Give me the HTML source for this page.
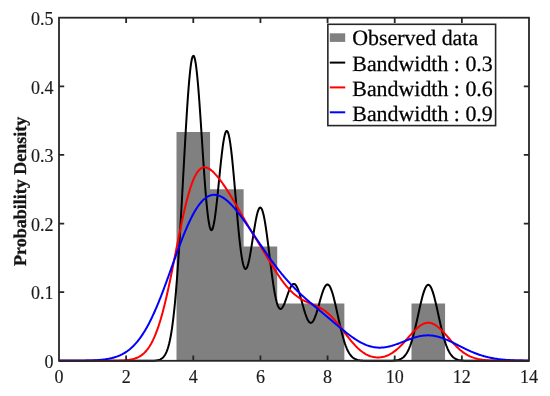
<!DOCTYPE html>
<html><head><meta charset="utf-8"><style>
html,body{margin:0;padding:0;background:#fff;}
body{width:550px;height:396px;overflow:hidden;}
svg{display:block;}
.t{font-family:"Liberation Serif",serif;font-size:18.0px;fill:#1a1a1a;stroke:#1a1a1a;stroke-width:0.15px;}
.lg{text-rendering:geometricPrecision;font-family:"Liberation Serif",serif;font-size:21.9px;fill:#000;stroke:#000;stroke-width:0.25px;}
.yl{text-rendering:geometricPrecision;font-family:"Liberation Serif",serif;font-size:18.0px;font-weight:bold;fill:#141414;stroke:#141414;stroke-width:0.3px;}
</style></head><body>
<svg width="550" height="396" viewBox="0 0 550 396">
<rect width="550" height="396" fill="#fff"/>
<path d="M176.50,360.80 V132.07 H210.07 V189.25 H243.64 V246.43 H277.21 V303.62 H344.36 V360.80 Z M411.50,360.80 V303.62 H445.07 V360.80 Z" fill="#808080"/>
<path d="M59.00,360.80 L59.67,360.80 L60.34,360.80 L61.01,360.80 L61.69,360.80 L62.36,360.80 L63.03,360.80 L63.70,360.80 L64.37,360.80 L65.04,360.80 L65.71,360.80 L66.39,360.80 L67.06,360.80 L67.73,360.80 L68.40,360.80 L69.07,360.80 L69.74,360.80 L70.41,360.80 L71.09,360.80 L71.76,360.80 L72.43,360.80 L73.10,360.80 L73.77,360.80 L74.44,360.80 L75.11,360.80 L75.79,360.80 L76.46,360.80 L77.13,360.80 L77.80,360.80 L78.47,360.80 L79.14,360.80 L79.81,360.80 L80.49,360.80 L81.16,360.80 L81.83,360.80 L82.50,360.80 L83.17,360.80 L83.84,360.80 L84.51,360.80 L85.19,360.80 L85.86,360.80 L86.53,360.80 L87.20,360.80 L87.87,360.80 L88.54,360.80 L89.21,360.80 L89.89,360.80 L90.56,360.80 L91.23,360.80 L91.90,360.80 L92.57,360.80 L93.24,360.80 L93.91,360.80 L94.59,360.80 L95.26,360.80 L95.93,360.80 L96.60,360.80 L97.27,360.80 L97.94,360.80 L98.61,360.80 L99.29,360.80 L99.96,360.80 L100.63,360.80 L101.30,360.80 L101.97,360.80 L102.64,360.80 L103.31,360.80 L103.99,360.80 L104.66,360.80 L105.33,360.80 L106.00,360.80 L106.67,360.80 L107.34,360.80 L108.01,360.80 L108.69,360.80 L109.36,360.80 L110.03,360.80 L110.70,360.80 L111.37,360.80 L112.04,360.80 L112.71,360.80 L113.39,360.80 L114.06,360.80 L114.73,360.80 L115.40,360.80 L116.07,360.80 L116.74,360.80 L117.41,360.80 L118.09,360.80 L118.76,360.80 L119.43,360.80 L120.10,360.80 L120.77,360.80 L121.44,360.80 L122.11,360.80 L122.79,360.80 L123.46,360.80 L124.13,360.80 L124.80,360.80 L125.47,360.80 L126.14,360.80 L126.81,360.80 L127.49,360.80 L128.16,360.80 L128.83,360.80 L129.50,360.80 L130.17,360.80 L130.84,360.80 L131.51,360.80 L132.19,360.80 L132.86,360.80 L133.53,360.80 L134.20,360.80 L134.87,360.80 L135.54,360.80 L136.21,360.80 L136.89,360.80 L137.56,360.80 L138.23,360.80 L138.90,360.80 L139.57,360.80 L140.24,360.80 L140.91,360.80 L141.59,360.80 L142.26,360.80 L142.93,360.80 L143.60,360.80 L144.27,360.80 L144.94,360.80 L145.61,360.80 L146.29,360.79 L146.96,360.79 L147.63,360.79 L148.30,360.79 L148.97,360.78 L149.64,360.77 L150.31,360.77 L150.99,360.76 L151.66,360.74 L152.33,360.72 L153.00,360.70 L153.67,360.67 L154.34,360.63 L155.01,360.58 L155.69,360.51 L156.36,360.43 L157.03,360.33 L157.70,360.21 L158.37,360.05 L159.04,359.86 L159.71,359.62 L160.39,359.33 L161.06,358.98 L161.73,358.56 L162.40,358.04 L163.07,357.42 L163.74,356.68 L164.41,355.80 L165.09,354.76 L165.76,353.54 L166.43,352.11 L167.10,350.44 L167.77,348.51 L168.44,346.28 L169.11,343.73 L169.79,340.81 L170.46,337.49 L171.13,333.75 L171.80,329.55 L172.47,324.85 L173.14,319.63 L173.81,313.87 L174.49,307.53 L175.16,300.60 L175.83,293.08 L176.50,284.95 L177.17,276.23 L177.84,266.92 L178.51,257.04 L179.19,246.64 L179.86,235.75 L180.53,224.42 L181.20,212.74 L181.87,200.76 L182.54,188.58 L183.21,176.29 L183.89,164.00 L184.56,151.83 L185.23,139.88 L185.90,128.29 L186.57,117.16 L187.24,106.64 L187.91,96.82 L188.59,87.84 L189.26,79.80 L189.93,72.79 L190.60,66.90 L191.27,62.21 L191.94,58.76 L192.61,56.60 L193.29,55.75 L193.96,56.20 L194.63,57.96 L195.30,60.97 L195.97,65.18 L196.64,70.53 L197.31,76.93 L197.99,84.26 L198.66,92.43 L199.33,101.29 L200.00,110.72 L200.67,120.58 L201.34,130.71 L202.01,140.97 L202.69,151.22 L203.36,161.32 L204.03,171.11 L204.70,180.48 L205.37,189.31 L206.04,197.47 L206.71,204.88 L207.39,211.44 L208.06,217.09 L208.73,221.77 L209.40,225.44 L210.07,228.07 L210.74,229.65 L211.41,230.19 L212.09,229.71 L212.76,228.25 L213.43,225.85 L214.10,222.57 L214.77,218.50 L215.44,213.72 L216.11,208.33 L216.79,202.43 L217.46,196.13 L218.13,189.56 L218.80,182.83 L219.47,176.06 L220.14,169.39 L220.81,162.93 L221.49,156.79 L222.16,151.10 L222.83,145.95 L223.50,141.44 L224.17,137.65 L224.84,134.65 L225.51,132.50 L226.19,131.24 L226.86,130.91 L227.53,131.51 L228.20,133.03 L228.87,135.47 L229.54,138.79 L230.21,142.94 L230.89,147.87 L231.56,153.49 L232.23,159.72 L232.90,166.49 L233.57,173.68 L234.24,181.20 L234.91,188.94 L235.59,196.79 L236.26,204.65 L236.93,212.41 L237.60,219.97 L238.27,227.24 L238.94,234.12 L239.61,240.54 L240.29,246.43 L240.96,251.71 L241.63,256.35 L242.30,260.29 L242.97,263.51 L243.64,265.99 L244.31,267.72 L244.99,268.71 L245.66,268.97 L246.33,268.52 L247.00,267.40 L247.67,265.65 L248.34,263.33 L249.01,260.50 L249.69,257.21 L250.36,253.55 L251.03,249.60 L251.70,245.43 L252.37,241.13 L253.04,236.79 L253.71,232.48 L254.39,228.29 L255.06,224.31 L255.73,220.60 L256.40,217.25 L257.07,214.31 L257.74,211.84 L258.41,209.89 L259.09,208.51 L259.76,207.72 L260.43,207.54 L261.10,207.98 L261.77,209.05 L262.44,210.72 L263.11,212.99 L263.79,215.81 L264.46,219.16 L265.13,222.99 L265.80,227.24 L266.47,231.85 L267.14,236.77 L267.81,241.92 L268.49,247.25 L269.16,252.67 L269.83,258.12 L270.50,263.54 L271.17,268.86 L271.84,274.01 L272.51,278.95 L273.19,283.62 L273.86,287.98 L274.53,291.98 L275.20,295.60 L275.87,298.81 L276.54,301.58 L277.21,303.91 L277.89,305.80 L278.56,307.23 L279.23,308.23 L279.90,308.79 L280.57,308.95 L281.24,308.73 L281.91,308.16 L282.59,307.26 L283.26,306.09 L283.93,304.67 L284.60,303.06 L285.27,301.30 L285.94,299.42 L286.61,297.49 L287.29,295.54 L287.96,293.62 L288.63,291.78 L289.30,290.05 L289.97,288.47 L290.64,287.09 L291.31,285.92 L291.99,284.99 L292.66,284.33 L293.33,283.96 L294.00,283.88 L294.67,284.09 L295.34,284.60 L296.01,285.41 L296.69,286.49 L297.36,287.84 L298.03,289.43 L298.70,291.24 L299.37,293.24 L300.04,295.40 L300.71,297.69 L301.39,300.06 L302.06,302.48 L302.73,304.91 L303.40,307.32 L304.07,309.67 L304.74,311.91 L305.41,314.02 L306.09,315.97 L306.76,317.72 L307.43,319.24 L308.10,320.53 L308.77,321.54 L309.44,322.28 L310.11,322.73 L310.79,322.88 L311.46,322.73 L312.13,322.28 L312.80,321.54 L313.47,320.53 L314.14,319.25 L314.81,317.72 L315.49,315.97 L316.16,314.03 L316.83,311.92 L317.50,309.68 L318.17,307.34 L318.84,304.94 L319.51,302.51 L320.19,300.10 L320.86,297.74 L321.53,295.47 L322.20,293.33 L322.87,291.35 L323.54,289.57 L324.21,288.02 L324.89,286.72 L325.56,285.70 L326.23,284.98 L326.90,284.56 L327.57,284.46 L328.24,284.69 L328.91,285.24 L329.59,286.11 L330.26,287.30 L330.93,288.78 L331.60,290.53 L332.27,292.55 L332.94,294.80 L333.61,297.25 L334.29,299.88 L334.96,302.67 L335.63,305.57 L336.30,308.55 L336.97,311.60 L337.64,314.67 L338.31,317.74 L338.99,320.79 L339.66,323.78 L340.33,326.71 L341.00,329.54 L341.67,332.26 L342.34,334.86 L343.01,337.33 L343.69,339.66 L344.36,341.84 L345.03,343.87 L345.70,345.75 L346.37,347.48 L347.04,349.07 L347.71,350.51 L348.39,351.81 L349.06,352.99 L349.73,354.04 L350.40,354.97 L351.07,355.80 L351.74,356.53 L352.41,357.17 L353.09,357.73 L353.76,358.21 L354.43,358.63 L355.10,358.99 L355.77,359.29 L356.44,359.55 L357.11,359.77 L357.79,359.96 L358.46,360.11 L359.13,360.24 L359.80,360.35 L360.47,360.43 L361.14,360.51 L361.81,360.57 L362.49,360.61 L363.16,360.65 L363.83,360.68 L364.50,360.71 L365.17,360.73 L365.84,360.74 L366.51,360.76 L367.19,360.77 L367.86,360.77 L368.53,360.78 L369.20,360.79 L369.87,360.79 L370.54,360.79 L371.21,360.79 L371.89,360.80 L372.56,360.80 L373.23,360.80 L373.90,360.80 L374.57,360.80 L375.24,360.80 L375.91,360.80 L376.59,360.80 L377.26,360.80 L377.93,360.80 L378.60,360.80 L379.27,360.80 L379.94,360.80 L380.61,360.80 L381.29,360.80 L381.96,360.80 L382.63,360.80 L383.30,360.80 L383.97,360.80 L384.64,360.79 L385.31,360.79 L385.99,360.79 L386.66,360.79 L387.33,360.78 L388.00,360.77 L388.67,360.77 L389.34,360.76 L390.01,360.74 L390.69,360.73 L391.36,360.71 L392.03,360.68 L392.70,360.65 L393.37,360.61 L394.04,360.57 L394.71,360.51 L395.39,360.43 L396.06,360.35 L396.73,360.24 L397.40,360.11 L398.07,359.96 L398.74,359.77 L399.41,359.55 L400.09,359.29 L400.76,358.99 L401.43,358.63 L402.10,358.21 L402.77,357.73 L403.44,357.17 L404.11,356.53 L404.79,355.80 L405.46,354.97 L406.13,354.04 L406.80,352.99 L407.47,351.81 L408.14,350.51 L408.81,349.07 L409.49,347.48 L410.16,345.75 L410.83,343.87 L411.50,341.84 L412.17,339.66 L412.84,337.33 L413.51,334.86 L414.19,332.26 L414.86,329.54 L415.53,326.71 L416.20,323.79 L416.87,320.79 L417.54,317.75 L418.21,314.68 L418.89,311.61 L419.56,308.57 L420.23,305.58 L420.90,302.69 L421.57,299.91 L422.24,297.28 L422.91,294.84 L423.59,292.60 L424.26,290.60 L424.93,288.87 L425.60,287.41 L426.27,286.26 L426.94,285.43 L427.61,284.93 L428.29,284.76 L428.96,284.93 L429.63,285.43 L430.30,286.26 L430.97,287.41 L431.64,288.87 L432.31,290.60 L432.99,292.60 L433.66,294.84 L434.33,297.28 L435.00,299.91 L435.67,302.69 L436.34,305.58 L437.01,308.57 L437.69,311.61 L438.36,314.68 L439.03,317.75 L439.70,320.79 L440.37,323.79 L441.04,326.71 L441.71,329.54 L442.39,332.26 L443.06,334.86 L443.73,337.33 L444.40,339.66 L445.07,341.84 L445.74,343.87 L446.41,345.75 L447.09,347.48 L447.76,349.07 L448.43,350.51 L449.10,351.81 L449.77,352.99 L450.44,354.04 L451.11,354.97 L451.79,355.80 L452.46,356.53 L453.13,357.17 L453.80,357.73 L454.47,358.21 L455.14,358.63 L455.81,358.99 L456.49,359.29 L457.16,359.55 L457.83,359.77 L458.50,359.96 L459.17,360.11 L459.84,360.24 L460.51,360.35 L461.19,360.43 L461.86,360.51 L462.53,360.57 L463.20,360.61 L463.87,360.65 L464.54,360.68 L465.21,360.71 L465.89,360.73 L466.56,360.74 L467.23,360.76 L467.90,360.77 L468.57,360.77 L469.24,360.78 L469.91,360.79 L470.59,360.79 L471.26,360.79 L471.93,360.79 L472.60,360.80 L473.27,360.80 L473.94,360.80 L474.61,360.80 L475.29,360.80 L475.96,360.80 L476.63,360.80 L477.30,360.80 L477.97,360.80 L478.64,360.80 L479.31,360.80 L479.99,360.80 L480.66,360.80 L481.33,360.80 L482.00,360.80 L482.67,360.80 L483.34,360.80 L484.01,360.80 L484.69,360.80 L485.36,360.80 L486.03,360.80 L486.70,360.80 L487.37,360.80 L488.04,360.80 L488.71,360.80 L489.39,360.80 L490.06,360.80 L490.73,360.80 L491.40,360.80 L492.07,360.80 L492.74,360.80 L493.41,360.80 L494.09,360.80 L494.76,360.80 L495.43,360.80 L496.10,360.80 L496.77,360.80 L497.44,360.80 L498.11,360.80 L498.79,360.80 L499.46,360.80 L500.13,360.80 L500.80,360.80 L501.47,360.80 L502.14,360.80 L502.81,360.80 L503.49,360.80 L504.16,360.80 L504.83,360.80 L505.50,360.80 L506.17,360.80 L506.84,360.80 L507.51,360.80 L508.19,360.80 L508.86,360.80 L509.53,360.80 L510.20,360.80 L510.87,360.80 L511.54,360.80 L512.21,360.80 L512.89,360.80 L513.56,360.80 L514.23,360.80 L514.90,360.80 L515.57,360.80 L516.24,360.80 L516.91,360.80 L517.59,360.80 L518.26,360.80 L518.93,360.80 L519.60,360.80 L520.27,360.80 L520.94,360.80 L521.61,360.80 L522.29,360.80 L522.96,360.80 L523.63,360.80 L524.30,360.80 L524.97,360.80 L525.64,360.80 L526.31,360.80 L526.99,360.80 L527.66,360.80 L528.33,360.80 L529.00,360.80" fill="none" stroke="#000" stroke-width="2.0" stroke-linejoin="round"/>
<path d="M59.00,360.80 L59.67,360.80 L60.34,360.80 L61.01,360.80 L61.69,360.80 L62.36,360.80 L63.03,360.80 L63.70,360.80 L64.37,360.80 L65.04,360.80 L65.71,360.80 L66.39,360.80 L67.06,360.80 L67.73,360.80 L68.40,360.80 L69.07,360.80 L69.74,360.80 L70.41,360.80 L71.09,360.80 L71.76,360.80 L72.43,360.80 L73.10,360.80 L73.77,360.80 L74.44,360.80 L75.11,360.80 L75.79,360.80 L76.46,360.80 L77.13,360.80 L77.80,360.80 L78.47,360.80 L79.14,360.80 L79.81,360.80 L80.49,360.80 L81.16,360.80 L81.83,360.80 L82.50,360.80 L83.17,360.80 L83.84,360.80 L84.51,360.80 L85.19,360.80 L85.86,360.80 L86.53,360.80 L87.20,360.80 L87.87,360.80 L88.54,360.80 L89.21,360.80 L89.89,360.80 L90.56,360.80 L91.23,360.80 L91.90,360.80 L92.57,360.80 L93.24,360.80 L93.91,360.80 L94.59,360.80 L95.26,360.80 L95.93,360.80 L96.60,360.80 L97.27,360.80 L97.94,360.80 L98.61,360.80 L99.29,360.80 L99.96,360.80 L100.63,360.80 L101.30,360.80 L101.97,360.79 L102.64,360.79 L103.31,360.79 L103.99,360.79 L104.66,360.79 L105.33,360.79 L106.00,360.79 L106.67,360.79 L107.34,360.78 L108.01,360.78 L108.69,360.78 L109.36,360.77 L110.03,360.77 L110.70,360.77 L111.37,360.76 L112.04,360.76 L112.71,360.75 L113.39,360.74 L114.06,360.73 L114.73,360.72 L115.40,360.71 L116.07,360.70 L116.74,360.69 L117.41,360.67 L118.09,360.66 L118.76,360.64 L119.43,360.62 L120.10,360.59 L120.77,360.57 L121.44,360.54 L122.11,360.50 L122.79,360.47 L123.46,360.43 L124.13,360.38 L124.80,360.33 L125.47,360.27 L126.14,360.21 L126.81,360.14 L127.49,360.07 L128.16,359.98 L128.83,359.89 L129.50,359.79 L130.17,359.68 L130.84,359.55 L131.51,359.42 L132.19,359.27 L132.86,359.11 L133.53,358.93 L134.20,358.74 L134.87,358.53 L135.54,358.30 L136.21,358.05 L136.89,357.78 L137.56,357.48 L138.23,357.16 L138.90,356.82 L139.57,356.45 L140.24,356.04 L140.91,355.61 L141.59,355.14 L142.26,354.64 L142.93,354.10 L143.60,353.52 L144.27,352.90 L144.94,352.23 L145.61,351.52 L146.29,350.77 L146.96,349.96 L147.63,349.10 L148.30,348.18 L148.97,347.21 L149.64,346.18 L150.31,345.09 L150.99,343.94 L151.66,342.72 L152.33,341.43 L153.00,340.08 L153.67,338.66 L154.34,337.16 L155.01,335.59 L155.69,333.94 L156.36,332.22 L157.03,330.42 L157.70,328.54 L158.37,326.59 L159.04,324.55 L159.71,322.44 L160.39,320.24 L161.06,317.96 L161.73,315.61 L162.40,313.18 L163.07,310.67 L163.74,308.08 L164.41,305.42 L165.09,302.68 L165.76,299.88 L166.43,297.01 L167.10,294.07 L167.77,291.07 L168.44,288.01 L169.11,284.90 L169.79,281.73 L170.46,278.52 L171.13,275.26 L171.80,271.97 L172.47,268.64 L173.14,265.29 L173.81,261.92 L174.49,258.52 L175.16,255.12 L175.83,251.71 L176.50,248.30 L177.17,244.90 L177.84,241.52 L178.51,238.15 L179.19,234.81 L179.86,231.50 L180.53,228.22 L181.20,224.99 L181.87,221.81 L182.54,218.69 L183.21,215.63 L183.89,212.63 L184.56,209.70 L185.23,206.86 L185.90,204.09 L186.57,201.40 L187.24,198.81 L187.91,196.31 L188.59,193.91 L189.26,191.60 L189.93,189.40 L190.60,187.30 L191.27,185.31 L191.94,183.42 L192.61,181.65 L193.29,179.98 L193.96,178.42 L194.63,176.97 L195.30,175.63 L195.97,174.40 L196.64,173.28 L197.31,172.26 L197.99,171.34 L198.66,170.53 L199.33,169.81 L200.00,169.19 L200.67,168.67 L201.34,168.24 L202.01,167.89 L202.69,167.63 L203.36,167.45 L204.03,167.35 L204.70,167.33 L205.37,167.37 L206.04,167.48 L206.71,167.66 L207.39,167.90 L208.06,168.19 L208.73,168.54 L209.40,168.93 L210.07,169.38 L210.74,169.87 L211.41,170.40 L212.09,170.97 L212.76,171.57 L213.43,172.21 L214.10,172.88 L214.77,173.58 L215.44,174.31 L216.11,175.06 L216.79,175.84 L217.46,176.64 L218.13,177.46 L218.80,178.30 L219.47,179.16 L220.14,180.04 L220.81,180.94 L221.49,181.85 L222.16,182.78 L222.83,183.73 L223.50,184.69 L224.17,185.66 L224.84,186.65 L225.51,187.66 L226.19,188.67 L226.86,189.70 L227.53,190.75 L228.20,191.80 L228.87,192.87 L229.54,193.95 L230.21,195.04 L230.89,196.14 L231.56,197.25 L232.23,198.37 L232.90,199.50 L233.57,200.63 L234.24,201.77 L234.91,202.92 L235.59,204.08 L236.26,205.24 L236.93,206.40 L237.60,207.57 L238.27,208.74 L238.94,209.91 L239.61,211.08 L240.29,212.26 L240.96,213.43 L241.63,214.60 L242.30,215.77 L242.97,216.94 L243.64,218.10 L244.31,219.26 L244.99,220.42 L245.66,221.57 L246.33,222.72 L247.00,223.87 L247.67,225.01 L248.34,226.15 L249.01,227.28 L249.69,228.41 L250.36,229.53 L251.03,230.65 L251.70,231.76 L252.37,232.88 L253.04,233.99 L253.71,235.09 L254.39,236.20 L255.06,237.30 L255.73,238.40 L256.40,239.50 L257.07,240.60 L257.74,241.70 L258.41,242.80 L259.09,243.90 L259.76,245.00 L260.43,246.10 L261.10,247.20 L261.77,248.31 L262.44,249.41 L263.11,250.52 L263.79,251.63 L264.46,252.74 L265.13,253.85 L265.80,254.97 L266.47,256.08 L267.14,257.19 L267.81,258.31 L268.49,259.42 L269.16,260.53 L269.83,261.64 L270.50,262.75 L271.17,263.85 L271.84,264.95 L272.51,266.04 L273.19,267.13 L273.86,268.21 L274.53,269.29 L275.20,270.35 L275.87,271.41 L276.54,272.45 L277.21,273.49 L277.89,274.51 L278.56,275.52 L279.23,276.52 L279.90,277.50 L280.57,278.46 L281.24,279.41 L281.91,280.35 L282.59,281.26 L283.26,282.16 L283.93,283.04 L284.60,283.90 L285.27,284.74 L285.94,285.57 L286.61,286.37 L287.29,287.16 L287.96,287.92 L288.63,288.66 L289.30,289.39 L289.97,290.09 L290.64,290.77 L291.31,291.44 L291.99,292.08 L292.66,292.71 L293.33,293.31 L294.00,293.89 L294.67,294.46 L295.34,295.01 L296.01,295.54 L296.69,296.05 L297.36,296.54 L298.03,297.02 L298.70,297.48 L299.37,297.93 L300.04,298.36 L300.71,298.77 L301.39,299.17 L302.06,299.56 L302.73,299.94 L303.40,300.30 L304.07,300.65 L304.74,300.99 L305.41,301.32 L306.09,301.64 L306.76,301.95 L307.43,302.26 L308.10,302.56 L308.77,302.85 L309.44,303.14 L310.11,303.42 L310.79,303.70 L311.46,303.98 L312.13,304.26 L312.80,304.54 L313.47,304.83 L314.14,305.11 L314.81,305.40 L315.49,305.69 L316.16,305.99 L316.83,306.30 L317.50,306.62 L318.17,306.94 L318.84,307.28 L319.51,307.62 L320.19,307.98 L320.86,308.36 L321.53,308.74 L322.20,309.15 L322.87,309.56 L323.54,310.00 L324.21,310.45 L324.89,310.92 L325.56,311.41 L326.23,311.92 L326.90,312.45 L327.57,313.00 L328.24,313.57 L328.91,314.16 L329.59,314.77 L330.26,315.40 L330.93,316.05 L331.60,316.72 L332.27,317.41 L332.94,318.12 L333.61,318.85 L334.29,319.60 L334.96,320.36 L335.63,321.14 L336.30,321.93 L336.97,322.74 L337.64,323.56 L338.31,324.39 L338.99,325.24 L339.66,326.09 L340.33,326.96 L341.00,327.83 L341.67,328.70 L342.34,329.58 L343.01,330.47 L343.69,331.36 L344.36,332.24 L345.03,333.13 L345.70,334.01 L346.37,334.89 L347.04,335.77 L347.71,336.63 L348.39,337.49 L349.06,338.35 L349.73,339.19 L350.40,340.02 L351.07,340.83 L351.74,341.64 L352.41,342.43 L353.09,343.20 L353.76,343.96 L354.43,344.70 L355.10,345.42 L355.77,346.13 L356.44,346.81 L357.11,347.48 L357.79,348.12 L358.46,348.74 L359.13,349.35 L359.80,349.93 L360.47,350.49 L361.14,351.03 L361.81,351.54 L362.49,352.03 L363.16,352.51 L363.83,352.95 L364.50,353.38 L365.17,353.79 L365.84,354.17 L366.51,354.53 L367.19,354.87 L367.86,355.19 L368.53,355.48 L369.20,355.76 L369.87,356.01 L370.54,356.24 L371.21,356.45 L371.89,356.64 L372.56,356.81 L373.23,356.96 L373.90,357.09 L374.57,357.20 L375.24,357.29 L375.91,357.36 L376.59,357.41 L377.26,357.44 L377.93,357.45 L378.60,357.44 L379.27,357.42 L379.94,357.37 L380.61,357.30 L381.29,357.21 L381.96,357.10 L382.63,356.98 L383.30,356.83 L383.97,356.66 L384.64,356.48 L385.31,356.27 L385.99,356.04 L386.66,355.79 L387.33,355.52 L388.00,355.23 L388.67,354.92 L389.34,354.59 L390.01,354.23 L390.69,353.86 L391.36,353.46 L392.03,353.05 L392.70,352.61 L393.37,352.15 L394.04,351.67 L394.71,351.17 L395.39,350.65 L396.06,350.11 L396.73,349.55 L397.40,348.97 L398.07,348.37 L398.74,347.76 L399.41,347.12 L400.09,346.47 L400.76,345.81 L401.43,345.12 L402.10,344.43 L402.77,343.72 L403.44,343.00 L404.11,342.27 L404.79,341.52 L405.46,340.77 L406.13,340.02 L406.80,339.26 L407.47,338.49 L408.14,337.73 L408.81,336.96 L409.49,336.19 L410.16,335.43 L410.83,334.68 L411.50,333.93 L412.17,333.19 L412.84,332.46 L413.51,331.74 L414.19,331.04 L414.86,330.35 L415.53,329.69 L416.20,329.04 L416.87,328.42 L417.54,327.82 L418.21,327.24 L418.89,326.70 L419.56,326.18 L420.23,325.70 L420.90,325.25 L421.57,324.83 L422.24,324.45 L422.91,324.11 L423.59,323.80 L424.26,323.53 L424.93,323.30 L425.60,323.11 L426.27,322.97 L426.94,322.86 L427.61,322.80 L428.29,322.78 L428.96,322.80 L429.63,322.86 L430.30,322.97 L430.97,323.11 L431.64,323.30 L432.31,323.53 L432.99,323.80 L433.66,324.11 L434.33,324.45 L435.00,324.83 L435.67,325.25 L436.34,325.70 L437.01,326.19 L437.69,326.70 L438.36,327.25 L439.03,327.82 L439.70,328.42 L440.37,329.04 L441.04,329.69 L441.71,330.35 L442.39,331.04 L443.06,331.74 L443.73,332.46 L444.40,333.19 L445.07,333.93 L445.74,334.68 L446.41,335.44 L447.09,336.20 L447.76,336.97 L448.43,337.74 L449.10,338.51 L449.77,339.27 L450.44,340.04 L451.11,340.80 L451.79,341.55 L452.46,342.29 L453.13,343.03 L453.80,343.75 L454.47,344.47 L455.14,345.17 L455.81,345.86 L456.49,346.53 L457.16,347.19 L457.83,347.83 L458.50,348.46 L459.17,349.06 L459.84,349.66 L460.51,350.23 L461.19,350.78 L461.86,351.32 L462.53,351.84 L463.20,352.34 L463.87,352.81 L464.54,353.28 L465.21,353.72 L465.89,354.14 L466.56,354.55 L467.23,354.93 L467.90,355.30 L468.57,355.65 L469.24,355.99 L469.91,356.31 L470.59,356.61 L471.26,356.89 L471.93,357.16 L472.60,357.42 L473.27,357.66 L473.94,357.89 L474.61,358.10 L475.29,358.30 L475.96,358.49 L476.63,358.67 L477.30,358.83 L477.97,358.99 L478.64,359.13 L479.31,359.26 L479.99,359.39 L480.66,359.51 L481.33,359.61 L482.00,359.71 L482.67,359.81 L483.34,359.89 L484.01,359.97 L484.69,360.05 L485.36,360.11 L486.03,360.18 L486.70,360.23 L487.37,360.29 L488.04,360.33 L488.71,360.38 L489.39,360.42 L490.06,360.45 L490.73,360.49 L491.40,360.52 L492.07,360.55 L492.74,360.57 L493.41,360.60 L494.09,360.62 L494.76,360.64 L495.43,360.65 L496.10,360.67 L496.77,360.68 L497.44,360.70 L498.11,360.71 L498.79,360.72 L499.46,360.73 L500.13,360.73 L500.80,360.74 L501.47,360.75 L502.14,360.75 L502.81,360.76 L503.49,360.76 L504.16,360.77 L504.83,360.77 L505.50,360.78 L506.17,360.78 L506.84,360.78 L507.51,360.78 L508.19,360.79 L508.86,360.79 L509.53,360.79 L510.20,360.79 L510.87,360.79 L511.54,360.79 L512.21,360.79 L512.89,360.79 L513.56,360.80 L514.23,360.80 L514.90,360.80 L515.57,360.80 L516.24,360.80 L516.91,360.80 L517.59,360.80 L518.26,360.80 L518.93,360.80 L519.60,360.80 L520.27,360.80 L520.94,360.80 L521.61,360.80 L522.29,360.80 L522.96,360.80 L523.63,360.80 L524.30,360.80 L524.97,360.80 L525.64,360.80 L526.31,360.80 L526.99,360.80 L527.66,360.80 L528.33,360.80 L529.00,360.80" fill="none" stroke="#f00" stroke-width="2.0" stroke-linejoin="round"/>
<path d="M59.00,360.79 L59.67,360.79 L60.34,360.79 L61.01,360.79 L61.69,360.79 L62.36,360.79 L63.03,360.79 L63.70,360.79 L64.37,360.79 L65.04,360.79 L65.71,360.79 L66.39,360.78 L67.06,360.78 L67.73,360.78 L68.40,360.78 L69.07,360.78 L69.74,360.78 L70.41,360.77 L71.09,360.77 L71.76,360.77 L72.43,360.77 L73.10,360.76 L73.77,360.76 L74.44,360.76 L75.11,360.75 L75.79,360.75 L76.46,360.74 L77.13,360.74 L77.80,360.73 L78.47,360.73 L79.14,360.72 L79.81,360.71 L80.49,360.70 L81.16,360.70 L81.83,360.69 L82.50,360.68 L83.17,360.67 L83.84,360.66 L84.51,360.64 L85.19,360.63 L85.86,360.62 L86.53,360.60 L87.20,360.58 L87.87,360.57 L88.54,360.55 L89.21,360.53 L89.89,360.51 L90.56,360.48 L91.23,360.46 L91.90,360.43 L92.57,360.40 L93.24,360.37 L93.91,360.34 L94.59,360.31 L95.26,360.27 L95.93,360.23 L96.60,360.19 L97.27,360.14 L97.94,360.09 L98.61,360.04 L99.29,359.99 L99.96,359.93 L100.63,359.87 L101.30,359.80 L101.97,359.73 L102.64,359.66 L103.31,359.58 L103.99,359.49 L104.66,359.41 L105.33,359.31 L106.00,359.21 L106.67,359.11 L107.34,358.99 L108.01,358.88 L108.69,358.75 L109.36,358.62 L110.03,358.48 L110.70,358.33 L111.37,358.18 L112.04,358.02 L112.71,357.84 L113.39,357.66 L114.06,357.47 L114.73,357.27 L115.40,357.06 L116.07,356.84 L116.74,356.60 L117.41,356.36 L118.09,356.10 L118.76,355.83 L119.43,355.55 L120.10,355.26 L120.77,354.95 L121.44,354.62 L122.11,354.29 L122.79,353.93 L123.46,353.56 L124.13,353.18 L124.80,352.78 L125.47,352.36 L126.14,351.92 L126.81,351.46 L127.49,350.99 L128.16,350.50 L128.83,349.99 L129.50,349.45 L130.17,348.90 L130.84,348.32 L131.51,347.73 L132.19,347.11 L132.86,346.47 L133.53,345.81 L134.20,345.12 L134.87,344.41 L135.54,343.67 L136.21,342.91 L136.89,342.13 L137.56,341.32 L138.23,340.48 L138.90,339.62 L139.57,338.73 L140.24,337.82 L140.91,336.88 L141.59,335.91 L142.26,334.91 L142.93,333.89 L143.60,332.83 L144.27,331.76 L144.94,330.65 L145.61,329.51 L146.29,328.35 L146.96,327.16 L147.63,325.94 L148.30,324.69 L148.97,323.42 L149.64,322.11 L150.31,320.78 L150.99,319.43 L151.66,318.04 L152.33,316.63 L153.00,315.19 L153.67,313.73 L154.34,312.24 L155.01,310.73 L155.69,309.19 L156.36,307.63 L157.03,306.04 L157.70,304.43 L158.37,302.80 L159.04,301.15 L159.71,299.47 L160.39,297.78 L161.06,296.07 L161.73,294.34 L162.40,292.59 L163.07,290.83 L163.74,289.05 L164.41,287.26 L165.09,285.45 L165.76,283.63 L166.43,281.80 L167.10,279.96 L167.77,278.12 L168.44,276.26 L169.11,274.40 L169.79,272.53 L170.46,270.66 L171.13,268.79 L171.80,266.91 L172.47,265.04 L173.14,263.16 L173.81,261.29 L174.49,259.43 L175.16,257.57 L175.83,255.71 L176.50,253.86 L177.17,252.03 L177.84,250.20 L178.51,248.39 L179.19,246.58 L179.86,244.80 L180.53,243.03 L181.20,241.27 L181.87,239.54 L182.54,237.82 L183.21,236.13 L183.89,234.46 L184.56,232.81 L185.23,231.19 L185.90,229.59 L186.57,228.02 L187.24,226.48 L187.91,224.96 L188.59,223.48 L189.26,222.02 L189.93,220.60 L190.60,219.21 L191.27,217.86 L191.94,216.54 L192.61,215.25 L193.29,214.00 L193.96,212.79 L194.63,211.61 L195.30,210.47 L195.97,209.37 L196.64,208.31 L197.31,207.29 L197.99,206.30 L198.66,205.36 L199.33,204.46 L200.00,203.59 L200.67,202.77 L201.34,201.99 L202.01,201.25 L202.69,200.55 L203.36,199.89 L204.03,199.27 L204.70,198.70 L205.37,198.16 L206.04,197.67 L206.71,197.22 L207.39,196.80 L208.06,196.43 L208.73,196.10 L209.40,195.80 L210.07,195.55 L210.74,195.34 L211.41,195.16 L212.09,195.02 L212.76,194.92 L213.43,194.86 L214.10,194.83 L214.77,194.84 L215.44,194.89 L216.11,194.97 L216.79,195.08 L217.46,195.23 L218.13,195.41 L218.80,195.62 L219.47,195.87 L220.14,196.15 L220.81,196.45 L221.49,196.79 L222.16,197.16 L222.83,197.55 L223.50,197.97 L224.17,198.42 L224.84,198.90 L225.51,199.40 L226.19,199.93 L226.86,200.48 L227.53,201.05 L228.20,201.65 L228.87,202.27 L229.54,202.90 L230.21,203.56 L230.89,204.24 L231.56,204.94 L232.23,205.66 L232.90,206.40 L233.57,207.15 L234.24,207.92 L234.91,208.70 L235.59,209.50 L236.26,210.31 L236.93,211.14 L237.60,211.98 L238.27,212.84 L238.94,213.70 L239.61,214.58 L240.29,215.47 L240.96,216.36 L241.63,217.27 L242.30,218.19 L242.97,219.11 L243.64,220.05 L244.31,220.99 L244.99,221.94 L245.66,222.89 L246.33,223.85 L247.00,224.82 L247.67,225.79 L248.34,226.77 L249.01,227.75 L249.69,228.73 L250.36,229.72 L251.03,230.71 L251.70,231.70 L252.37,232.70 L253.04,233.70 L253.71,234.70 L254.39,235.70 L255.06,236.70 L255.73,237.70 L256.40,238.70 L257.07,239.70 L257.74,240.70 L258.41,241.70 L259.09,242.69 L259.76,243.69 L260.43,244.68 L261.10,245.68 L261.77,246.67 L262.44,247.65 L263.11,248.64 L263.79,249.62 L264.46,250.59 L265.13,251.57 L265.80,252.54 L266.47,253.50 L267.14,254.46 L267.81,255.42 L268.49,256.37 L269.16,257.32 L269.83,258.26 L270.50,259.19 L271.17,260.12 L271.84,261.05 L272.51,261.96 L273.19,262.88 L273.86,263.78 L274.53,264.68 L275.20,265.57 L275.87,266.46 L276.54,267.34 L277.21,268.21 L277.89,269.07 L278.56,269.93 L279.23,270.78 L279.90,271.63 L280.57,272.46 L281.24,273.29 L281.91,274.11 L282.59,274.92 L283.26,275.73 L283.93,276.53 L284.60,277.32 L285.27,278.10 L285.94,278.88 L286.61,279.65 L287.29,280.41 L287.96,281.16 L288.63,281.90 L289.30,282.64 L289.97,283.37 L290.64,284.09 L291.31,284.81 L291.99,285.52 L292.66,286.22 L293.33,286.92 L294.00,287.60 L294.67,288.28 L295.34,288.96 L296.01,289.63 L296.69,290.29 L297.36,290.94 L298.03,291.59 L298.70,292.24 L299.37,292.88 L300.04,293.51 L300.71,294.14 L301.39,294.76 L302.06,295.37 L302.73,295.99 L303.40,296.60 L304.07,297.20 L304.74,297.80 L305.41,298.39 L306.09,298.99 L306.76,299.57 L307.43,300.16 L308.10,300.74 L308.77,301.32 L309.44,301.90 L310.11,302.47 L310.79,303.04 L311.46,303.61 L312.13,304.18 L312.80,304.75 L313.47,305.31 L314.14,305.87 L314.81,306.44 L315.49,307.00 L316.16,307.56 L316.83,308.12 L317.50,308.68 L318.17,309.24 L318.84,309.80 L319.51,310.36 L320.19,310.91 L320.86,311.47 L321.53,312.03 L322.20,312.59 L322.87,313.15 L323.54,313.71 L324.21,314.28 L324.89,314.84 L325.56,315.40 L326.23,315.96 L326.90,316.53 L327.57,317.09 L328.24,317.66 L328.91,318.22 L329.59,318.79 L330.26,319.35 L330.93,319.92 L331.60,320.49 L332.27,321.05 L332.94,321.62 L333.61,322.19 L334.29,322.76 L334.96,323.32 L335.63,323.89 L336.30,324.45 L336.97,325.02 L337.64,325.58 L338.31,326.14 L338.99,326.71 L339.66,327.26 L340.33,327.82 L341.00,328.38 L341.67,328.93 L342.34,329.48 L343.01,330.03 L343.69,330.57 L344.36,331.11 L345.03,331.65 L345.70,332.18 L346.37,332.71 L347.04,333.23 L347.71,333.75 L348.39,334.27 L349.06,334.77 L349.73,335.28 L350.40,335.77 L351.07,336.26 L351.74,336.75 L352.41,337.22 L353.09,337.69 L353.76,338.15 L354.43,338.61 L355.10,339.05 L355.77,339.49 L356.44,339.91 L357.11,340.33 L357.79,340.74 L358.46,341.14 L359.13,341.53 L359.80,341.91 L360.47,342.28 L361.14,342.64 L361.81,342.98 L362.49,343.32 L363.16,343.64 L363.83,343.96 L364.50,344.26 L365.17,344.55 L365.84,344.82 L366.51,345.09 L367.19,345.34 L367.86,345.58 L368.53,345.81 L369.20,346.02 L369.87,346.22 L370.54,346.41 L371.21,346.58 L371.89,346.74 L372.56,346.89 L373.23,347.03 L373.90,347.15 L374.57,347.26 L375.24,347.35 L375.91,347.43 L376.59,347.50 L377.26,347.56 L377.93,347.60 L378.60,347.63 L379.27,347.64 L379.94,347.65 L380.61,347.64 L381.29,347.61 L381.96,347.58 L382.63,347.53 L383.30,347.47 L383.97,347.40 L384.64,347.32 L385.31,347.23 L385.99,347.12 L386.66,347.00 L387.33,346.88 L388.00,346.74 L388.67,346.59 L389.34,346.44 L390.01,346.27 L390.69,346.10 L391.36,345.91 L392.03,345.72 L392.70,345.52 L393.37,345.32 L394.04,345.10 L394.71,344.88 L395.39,344.65 L396.06,344.42 L396.73,344.18 L397.40,343.94 L398.07,343.69 L398.74,343.44 L399.41,343.18 L400.09,342.93 L400.76,342.66 L401.43,342.40 L402.10,342.14 L402.77,341.87 L403.44,341.60 L404.11,341.34 L404.79,341.07 L405.46,340.80 L406.13,340.54 L406.80,340.28 L407.47,340.02 L408.14,339.76 L408.81,339.50 L409.49,339.25 L410.16,339.01 L410.83,338.77 L411.50,338.53 L412.17,338.30 L412.84,338.07 L413.51,337.85 L414.19,337.64 L414.86,337.44 L415.53,337.24 L416.20,337.05 L416.87,336.87 L417.54,336.70 L418.21,336.54 L418.89,336.38 L419.56,336.24 L420.23,336.10 L420.90,335.98 L421.57,335.87 L422.24,335.76 L422.91,335.67 L423.59,335.59 L424.26,335.52 L424.93,335.47 L425.60,335.42 L426.27,335.38 L426.94,335.36 L427.61,335.35 L428.29,335.35 L428.96,335.37 L429.63,335.39 L430.30,335.43 L430.97,335.48 L431.64,335.54 L432.31,335.61 L432.99,335.70 L433.66,335.80 L434.33,335.90 L435.00,336.02 L435.67,336.16 L436.34,336.30 L437.01,336.45 L437.69,336.62 L438.36,336.79 L439.03,336.98 L439.70,337.17 L440.37,337.38 L441.04,337.59 L441.71,337.82 L442.39,338.05 L443.06,338.29 L443.73,338.54 L444.40,338.80 L445.07,339.06 L445.74,339.34 L446.41,339.62 L447.09,339.90 L447.76,340.20 L448.43,340.49 L449.10,340.80 L449.77,341.11 L450.44,341.42 L451.11,341.74 L451.79,342.06 L452.46,342.39 L453.13,342.72 L453.80,343.05 L454.47,343.38 L455.14,343.72 L455.81,344.06 L456.49,344.40 L457.16,344.74 L457.83,345.08 L458.50,345.42 L459.17,345.77 L459.84,346.11 L460.51,346.45 L461.19,346.79 L461.86,347.13 L462.53,347.46 L463.20,347.80 L463.87,348.13 L464.54,348.46 L465.21,348.79 L465.89,349.11 L466.56,349.44 L467.23,349.75 L467.90,350.07 L468.57,350.38 L469.24,350.69 L469.91,350.99 L470.59,351.29 L471.26,351.58 L471.93,351.87 L472.60,352.15 L473.27,352.43 L473.94,352.71 L474.61,352.98 L475.29,353.24 L475.96,353.50 L476.63,353.75 L477.30,354.00 L477.97,354.24 L478.64,354.48 L479.31,354.71 L479.99,354.94 L480.66,355.16 L481.33,355.37 L482.00,355.58 L482.67,355.78 L483.34,355.98 L484.01,356.17 L484.69,356.36 L485.36,356.54 L486.03,356.72 L486.70,356.89 L487.37,357.05 L488.04,357.21 L488.71,357.37 L489.39,357.52 L490.06,357.66 L490.73,357.80 L491.40,357.94 L492.07,358.07 L492.74,358.20 L493.41,358.32 L494.09,358.43 L494.76,358.55 L495.43,358.65 L496.10,358.76 L496.77,358.86 L497.44,358.95 L498.11,359.05 L498.79,359.13 L499.46,359.22 L500.13,359.30 L500.80,359.38 L501.47,359.45 L502.14,359.52 L502.81,359.59 L503.49,359.66 L504.16,359.72 L504.83,359.78 L505.50,359.83 L506.17,359.89 L506.84,359.94 L507.51,359.99 L508.19,360.03 L508.86,360.08 L509.53,360.12 L510.20,360.16 L510.87,360.20 L511.54,360.23 L512.21,360.26 L512.89,360.30 L513.56,360.33 L514.23,360.36 L514.90,360.38 L515.57,360.41 L516.24,360.43 L516.91,360.46 L517.59,360.48 L518.26,360.50 L518.93,360.52 L519.60,360.54 L520.27,360.55 L520.94,360.57 L521.61,360.59 L522.29,360.60 L522.96,360.61 L523.63,360.63 L524.30,360.64 L524.97,360.65 L525.64,360.66 L526.31,360.67 L526.99,360.68 L527.66,360.69 L528.33,360.69 L529.00,360.70" fill="none" stroke="#00f" stroke-width="2.0" stroke-linejoin="round"/>
<rect x="59.00" y="17.70" width="470.00" height="343.10" fill="none" stroke="#262626" stroke-width="1.8"/>
<path d="M126.14,360.80 V355.60 M126.14,17.70 V22.90 M193.29,360.80 V355.60 M193.29,17.70 V22.90 M260.43,360.80 V355.60 M260.43,17.70 V22.90 M327.57,360.80 V355.60 M327.57,17.70 V22.90 M394.71,360.80 V355.60 M394.71,17.70 V22.90 M461.86,360.80 V355.60 M461.86,17.70 V22.90 M59.00,292.18 H64.20 M529.00,292.18 H523.80 M59.00,223.56 H64.20 M529.00,223.56 H523.80 M59.00,154.94 H64.20 M529.00,154.94 H523.80 M59.00,86.32 H64.20 M529.00,86.32 H523.80" stroke="#262626" stroke-width="1.8" fill="none"/>
<text x="59.00" y="382.60" text-anchor="middle" class="t">0</text>
<text x="126.14" y="382.60" text-anchor="middle" class="t">2</text>
<text x="193.29" y="382.60" text-anchor="middle" class="t">4</text>
<text x="260.43" y="382.60" text-anchor="middle" class="t">6</text>
<text x="327.57" y="382.60" text-anchor="middle" class="t">8</text>
<text x="394.71" y="382.60" text-anchor="middle" class="t">10</text>
<text x="461.86" y="382.60" text-anchor="middle" class="t">12</text>
<text x="529.00" y="382.60" text-anchor="middle" class="t">14</text>
<text x="53.50" y="368.00" text-anchor="end" class="t">0</text>
<text x="53.50" y="299.38" text-anchor="end" class="t">0.1</text>
<text x="53.50" y="230.76" text-anchor="end" class="t">0.2</text>
<text x="53.50" y="162.14" text-anchor="end" class="t">0.3</text>
<text x="53.50" y="93.52" text-anchor="end" class="t">0.4</text>
<text x="53.50" y="24.90" text-anchor="end" class="t">0.5</text>
<text transform="translate(25.50,191.30) rotate(-90)" text-anchor="middle" class="yl">Probability Density</text>
<rect x="327.85" y="24.3" width="167.75" height="101.30" fill="#fff" stroke="#262626" stroke-width="1.6"/>
<rect x="329.8" y="33.30" width="15.4" height="8.6" fill="#808080"/>
<path d="M329.8,62.6 H345.2" stroke="#000" stroke-width="2.0"/>
<path d="M329.8,87.4 H345.2" stroke="#f00" stroke-width="2.0"/>
<path d="M329.8,112.3 H345.2" stroke="#00f" stroke-width="2.0"/>
<text x="352.3" y="45.15" class="lg">Observed data</text>
<text x="352.3" y="70.50" class="lg">Bandwidth : 0.3</text>
<text x="352.3" y="96.15" class="lg">Bandwidth : 0.6</text>
<text x="352.3" y="121.15" class="lg">Bandwidth : 0.9</text>
</svg>
</body></html>
